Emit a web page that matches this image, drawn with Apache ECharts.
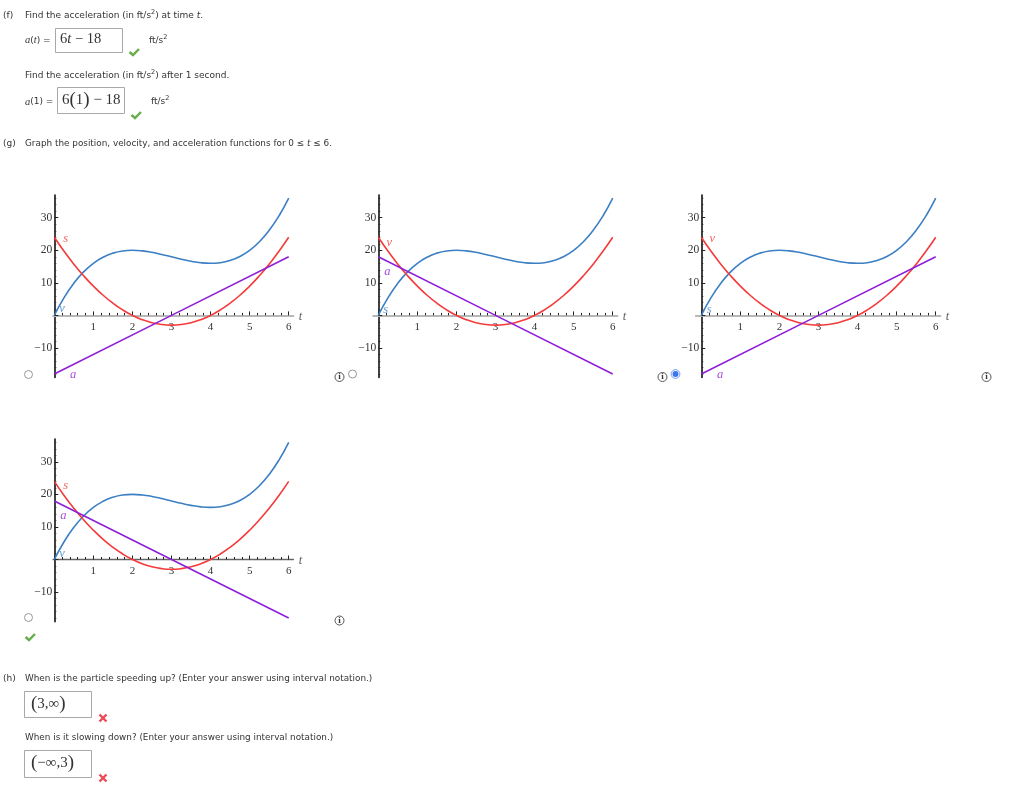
<!DOCTYPE html>
<html><head><meta charset="utf-8">
<style>html,body{margin:0;padding:0;background:#fff}#c{width:1024px;height:789px}</style>
<script src="https://cdn.jsdelivr.net/npm/echarts@6/dist/echarts.min.js"></script>
</head><body><div id="c"></div>
<script>
// ---- values ----
const times = [0,0.25,0.5,0.75,1,1.25,1.5,1.75,2,2.25,2.5,2.75,3,3.25,3.5,3.75,4,4.25,4.5,4.75,5,5.25,5.5,5.75,6];
const blueCurve = [0,5.45,9.88,13.36,16,17.89,19.13,19.8,20,19.83,19.38,18.73,18,17.27,16.63,16.17,16,16.2,16.88,18.11,20,22.64,26.13,30.55,36];
const redCurve = [24,19.69,15.75,12.19,9,6.19,3.75,1.69,0,-1.31,-2.25,-2.81,-3,-2.81,-2.25,-1.31,0,1.69,3.75,6.19,9,12.19,15.75,19.69,24];
const lineTimes = [0,3,6];
const risingLine = [-18,0,18];
const fallingLine = [18,0,-18];
const xTickLabels = [1,2,3,4,5,6];
const xMajorTicks = [0,1,2,3,4,5,6];
const xMinorTicks = [0.2,0.4,0.6,0.8,1.2,1.4,1.6,1.8,2.2,2.4,2.6,2.8,3.2,3.4,3.6,3.8,4.2,4.4,4.6,4.8,5.2,5.4,5.6,5.8];
const yTickLabels = [-10,10,20,30];
const yMajorTicks = [-10,0,10,20,30];
const yMinorTicks = [-18,-16,-14,-12,-8,-6,-4,-2,2,4,6,8,12,14,16,18,22,24,26,28,32,34,36];
// labels: [t, y, name]
const labelsA = [[0.29,23.6,'s'],[0.2,2,'v'],[0.48,-18.3,'a'],[6.3,-0.4,'t']];
const labelsB = [[0.28,22.4,'v'],[0.23,13.4,'a'],[0.19,1.7,'s'],[6.3,-0.4,'t']];
const labelsC = [[0.28,23.5,'v'],[0.2,1.7,'s'],[0.48,-18.3,'a'],[6.3,-0.4,'t']];
const labelsD = [[0.29,22.6,'s'],[0.23,13.5,'a'],[0.2,1.9,'v'],[6.3,-0.4,'t']];

// ---- layout and style ----
const BLUE='#3b7fc4', RED='#f43a3a', PURPLE='#8e1fd8';
const TXT='#333';
const pxX=39.07, pxY=3.255, yMin=-19.1, yMax=37;
const panels=[
 {x0:54.3, y0:315.4, xMin:-0.03, line:risingLine,  labels:labelsA, axisColor:'#b8b8b8', axisW:2, blueName:'v'},
 {x0:378.3,y0:315.4, xMin:-0.13, line:fallingLine, labels:labelsB, axisColor:'#b8b8b8', axisW:2, blueName:'s'},
 {x0:701.3,y0:315.4, xMin:-0.14, line:risingLine,  labels:labelsC, axisColor:'#b8b8b8', axisW:2, blueName:'s'},
 {x0:54.3, y0:559.5, xMin:-0.03, line:fallingLine, labels:labelsD, axisColor:'#666', axisW:1.4, blueName:'v'}
];
const grids=[],xAxes=[],yAxes=[],series=[];
panels.forEach((p,i)=>{
  const xMax=6.12;
  const colorOf={a:PURPLE,t:'#333'};
  colorOf[p.blueName]=BLUE;
  colorOf[p.blueName==='v'?'s':'v']=RED;
  grids.push({left:p.x0+p.xMin*pxX, width:(xMax-p.xMin)*pxX, top:p.y0-yMax*pxY, height:(yMax-yMin)*pxY});
  const base=2*i, baseY=2*i;
  const common={type:'value',gridIndex:i,min:p.xMin,max:xMax,position:'bottom',splitLine:{show:false},minorTick:{show:false}};
  xAxes.push(Object.assign({},common,{
    axisLine:{show:true,onZero:true,onZeroAxisIndex:baseY,lineStyle:{color:p.axisColor,width:p.axisW}},
    axisTick:{show:true,inside:true,length:4,customValues:xMajorTicks,lineStyle:{color:'#222',width:1}},
    axisLabel:{show:true,customValues:xTickLabels,margin:yMin*pxY+6,color:'#333',fontFamily:'Liberation Serif',fontSize:11,hideOverlap:false}
  }));
  xAxes.push(Object.assign({},common,{
    axisLine:{show:false,onZero:true,onZeroAxisIndex:baseY},
    axisTick:{show:true,inside:true,length:2.5,customValues:xMinorTicks,lineStyle:{color:'#222',width:1}},
    axisLabel:{show:false}
  }));
  const ycommon={type:'value',gridIndex:i,min:yMin,max:yMax,position:'left',splitLine:{show:false},minorTick:{show:false}};
  yAxes.push(Object.assign({},ycommon,{
    axisLine:{show:true,onZero:true,onZeroAxisIndex:base,lineStyle:{color:'#111',width:1.6}},
    axisTick:{show:true,inside:true,length:4,customValues:yMajorTicks,lineStyle:{color:'#222',width:1}},
    axisLabel:{show:true,customValues:yTickLabels,margin:2+p.xMin*pxX,color:'#333',fontFamily:'Liberation Serif',fontSize:11.5,hideOverlap:false,
      formatter:v=>String(v).replace('-','\u2212')}
  }));
  yAxes.push(Object.assign({},ycommon,{
    axisLine:{show:false,onZero:true,onZeroAxisIndex:base},
    axisTick:{show:true,inside:true,length:2,customValues:yMinorTicks,lineStyle:{color:'#333',width:1}},
    axisLabel:{show:false}
  }));
  const lineSer=(xs,ys,color,smooth)=>({type:'line',xAxisIndex:base,yAxisIndex:baseY,data:xs.map((t,k)=>[t,ys[k]]),
    showSymbol:false,symbol:'none',smooth:smooth,lineStyle:{color,width:1.6},silent:true,animation:false,z:5});
  series.push(lineSer(times,blueCurve,BLUE,true));
  series.push(lineSer(times,redCurve,RED,true));
  series.push(lineSer(lineTimes,p.line,PURPLE,false));
  series.push({type:'scatter',xAxisIndex:base,yAxisIndex:baseY,clip:false,symbolSize:0,silent:true,animation:false,z:6,
    data:p.labels.map(l=>({value:[l[0],l[1]],name:l[2],
      label:{show:true,position:'inside',formatter:l[2],color:colorOf[l[2]],fontFamily:'Liberation Serif',fontStyle:'italic',fontSize:12.5}}))});
});

// ---- page furniture ----
const rich={i:{fontFamily:'DejaVu Sans',fontStyle:'italic',fontSize:9,color:TXT,lineHeight:14},
            n:{fontFamily:'DejaVu Sans',fontSize:9,color:TXT,lineHeight:14},
            w:{fontFamily:'DejaVu Sans',fontSize:8.85,color:TXT,lineHeight:14},
            u:{fontFamily:'DejaVu Sans',fontStyle:'italic',fontSize:8.85,color:TXT,lineHeight:14},
            m:{fontFamily:'Liberation Serif',fontStyle:'italic',fontSize:10.5,color:TXT,lineHeight:14},
            s:{fontFamily:'DejaVu Sans',fontSize:6.5,color:TXT,lineHeight:14,verticalAlign:'top'}};
const mRich={n:{fontFamily:'Liberation Serif',fontSize:15,color:'#333',lineHeight:18},
             k:{fontFamily:'Liberation Serif',fontSize:14.5,color:'#333',lineHeight:18},
             i:{fontFamily:'Liberation Serif',fontStyle:'italic',fontSize:14.5,color:'#333',lineHeight:18},
             p:{fontFamily:'Liberation Serif',fontSize:19,color:'#333',lineHeight:18}};
const txt=(x,y,t)=>({type:'text',x,y:y+1,silent:true,style:{text:t,rich,fontFamily:'DejaVu Sans',fontSize:9,fill:TXT,verticalAlign:'middle',align:'left'}});
const mth=(x,y,t)=>({type:'text',x,y,silent:true,style:{text:t,rich:mRich,verticalAlign:'middle',align:'left',fontFamily:'Liberation Serif',fontSize:15,fill:'#333'}});
const box=(x,y,w,h)=>({type:'rect',silent:true,shape:{x,y,width:w,height:h},style:{fill:'#fff',stroke:'#a8a8a8',lineWidth:1}});
const check=(x,y)=>({type:'polyline',silent:true,shape:{points:[[x-4.5,y],[x-1,y+3],[x+5,y-3]]},style:{stroke:'#69ad4c',lineWidth:2.4,fill:null}});
const cross=(x,y)=>({type:'group',silent:true,children:[
  {type:'line',shape:{x1:x-3.5,y1:y-3.5,x2:x+3.5,y2:y+3.5},style:{stroke:'#ee4d55',lineWidth:2.4}},
  {type:'line',shape:{x1:x+3.5,y1:y-3.5,x2:x-3.5,y2:y+3.5},style:{stroke:'#ee4d55',lineWidth:2.4}}]});
const radio=(x,y,on)=>({type:'group',silent:true,children:on?[
  {type:'circle',shape:{cx:x,cy:y,r:4.4},style:{fill:'#fff',stroke:'#6f9ff5',lineWidth:1}},
  {type:'circle',shape:{cx:x,cy:y,r:3},style:{fill:'#3b73f0'}}]:[
  {type:'circle',shape:{cx:x,cy:y,r:4},style:{fill:'#fff',stroke:'#999',lineWidth:1}}]});
const info=(x,y)=>({type:'group',silent:true,children:[
  {type:'circle',shape:{cx:x,cy:y,r:4.5},style:{fill:'#fff',stroke:'#555',lineWidth:1}},
  {type:'text',x,y,style:{text:'i',fontFamily:'Liberation Serif',fontSize:9,fontWeight:'bold',fill:'#333',align:'center',verticalAlign:'middle'}}]});

const graphics=[
 txt(3,15,'(f)'),
 txt(25,15,'{n|Find the acceleration (in ft/s}{s|2}{n|) at time }{i|t}{n|.}'),
 txt(25,39.5,'{m|a}{n|(}{m|t}{n|) =}'),
 box(55.5,28.5,67,24),
 mth(60,39,'{k|6}{i|t}{k| \u2212 18}'),
 txt(149,39.5,'{n|ft/s}{s|2}'),
 check(134,52),
 txt(25,75,'{n|Find the acceleration (in ft/s}{s|2}{n|) after 1 second.}'),
 txt(25,101,'{m|a}{n|(1) =}'),
 box(57.5,87.5,67,26),
 mth(62,100,'{n|6}{p|(}{n|1}{p|)}{n| \u2212 18}'),
 txt(151,101,'{n|ft/s}{s|2}'),
 check(136,115),
 txt(3,143,'(g)'),
 txt(25,143,'{w|Graph the position, velocity, and acceleration functions for 0 \u2264 }{u|t}{w| \u2264 6.}'),
 radio(28.5,374.5,false),radio(352.5,374,false),radio(675.5,374,true),radio(28.5,617.5,false),
 info(339.5,377),info(662.5,377),info(986.5,377),info(339.5,620.5),
 check(30,637),
 txt(3,678,'(h)'),
 txt(25,678,'{w|When is the particle speeding up? (Enter your answer using interval notation.)}'),
 box(24.5,691.5,67,26),
 mth(31,704,'{p|(}{n|3,\u221e}{p|)}'),
 cross(103,718),
 txt(25,737,'{w|When is it slowing down? (Enter your answer using interval notation.)}'),
 box(24.5,750.5,67,27),
 mth(31,763,'{p|(}{n|\u2212\u221e,3}{p|)}'),
 cross(103,778)
];

const chart=echarts.init(document.getElementById('c'),null,{renderer:'canvas'});
chart.setOption({animation:false,backgroundColor:'#fff',grid:grids,xAxis:xAxes,yAxis:yAxes,series,graphic:graphics});
</script></body></html>
